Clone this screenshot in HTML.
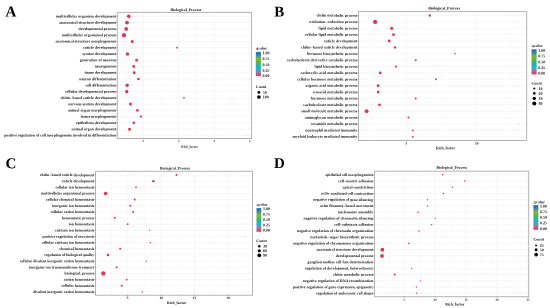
<!DOCTYPE html>
<html lang="en"><head><meta charset="utf-8"><title>GO enrichment bubble plots</title>
<style>html,body{margin:0;padding:0;background:#fff;overflow:hidden}svg{display:block}text{font-family:"Liberation Serif", "DejaVu Serif", serif;font-weight:bold;fill:#111;text-rendering:geometricPrecision}.lab{text-anchor:end}.tk{text-anchor:middle}.ax{text-anchor:middle}.ti{text-anchor:middle}.lg{font-size:4.0px}.lt{font-size:3.95px}.pl{font-size:15px;fill:#000}</style></head><body>
<svg width="550" height="308" viewBox="0 0 550 308">
<defs><linearGradient id="qv" x1="0" y1="0" x2="0" y2="1"><stop offset="0" stop-color="#1c70c6"/><stop offset="0.08" stop-color="#2279be"/><stop offset="0.18" stop-color="#4f9a7a"/><stop offset="0.28" stop-color="#7dba22"/><stop offset="0.40" stop-color="#5cb848"/><stop offset="0.50" stop-color="#2fb58a"/><stop offset="0.64" stop-color="#14b4d2"/><stop offset="0.76" stop-color="#5a9fc0"/><stop offset="0.86" stop-color="#b0708e"/><stop offset="0.95" stop-color="#e8405a"/><stop offset="1" stop-color="#ea3e58"/></linearGradient></defs>
<rect width="550" height="308" fill="#fff"/>
<g>
<text class="pl" x="5.6" y="16.4" transform="rotate(0.04 5.6 16.4)">A</text>
<path d="M117.3 16.35H251.6M117.3 22.62H251.6M117.3 28.88H251.6M117.3 35.15H251.6M117.3 41.41H251.6M117.3 47.68H251.6M117.3 53.94H251.6M117.3 60.21H251.6M117.3 66.48H251.6M117.3 72.74H251.6M117.3 79.01H251.6M117.3 85.27H251.6M117.3 91.54H251.6M117.3 97.81H251.6M117.3 104.07H251.6M117.3 110.34H251.6M117.3 116.60H251.6M117.3 122.87H251.6M117.3 129.13H251.6M117.3 135.40H251.6M143.3 12.4V138.5M178.7 12.4V138.5M214.2 12.4V138.5M249.8 12.4V138.5" stroke="#ededed" stroke-width="0.45" fill="none"/>
<path d="M125.5 12.4V138.5M161.0 12.4V138.5M196.4 12.4V138.5M232.0 12.4V138.5" stroke="#f3f3f3" stroke-width="0.3" fill="none"/>
<rect x="117.3" y="12.4" width="134.3" height="126.1" fill="none" stroke="#b4b4b4" stroke-width="1"/>
<path d="M116.4 16.35H117.3M116.4 22.62H117.3M116.4 28.88H117.3M116.4 35.15H117.3M116.4 41.41H117.3M116.4 47.68H117.3M116.4 53.94H117.3M116.4 60.21H117.3M116.4 66.48H117.3M116.4 72.74H117.3M116.4 79.01H117.3M116.4 85.27H117.3M116.4 91.54H117.3M116.4 97.81H117.3M116.4 104.07H117.3M116.4 110.34H117.3M116.4 116.60H117.3M116.4 122.87H117.3M116.4 129.13H117.3M116.4 135.40H117.3M143.3 138.5V139.3M178.7 138.5V139.3M214.2 138.5V139.3M249.8 138.5V139.3" stroke="#444" stroke-width="0.4" fill="none"/>
<text class="lab" font-size="3.91" x="116.1" y="17.50" transform="rotate(0.04 116.1 17.50)">multicellular organism development</text>
<text class="lab" font-size="3.91" x="116.1" y="23.77" transform="rotate(0.04 116.1 23.77)">anatomical structure development</text>
<text class="lab" font-size="3.91" x="116.1" y="30.03" transform="rotate(0.04 116.1 30.03)">developmental process</text>
<text class="lab" font-size="3.91" x="116.1" y="36.30" transform="rotate(0.04 116.1 36.30)">multicellular organismal process</text>
<text class="lab" font-size="3.91" x="116.1" y="42.56" transform="rotate(0.04 116.1 42.56)">anatomical structure morphogenesis</text>
<text class="lab" font-size="3.91" x="116.1" y="48.83" transform="rotate(0.04 116.1 48.83)">cuticle development</text>
<text class="lab" font-size="3.91" x="116.1" y="55.09" transform="rotate(0.04 116.1 55.09)">system development</text>
<text class="lab" font-size="3.91" x="116.1" y="61.36" transform="rotate(0.04 116.1 61.36)">generation of neurons</text>
<text class="lab" font-size="3.91" x="116.1" y="67.63" transform="rotate(0.04 116.1 67.63)">neurogenesis</text>
<text class="lab" font-size="3.91" x="116.1" y="73.89" transform="rotate(0.04 116.1 73.89)">tissue development</text>
<text class="lab" font-size="3.91" x="116.1" y="80.16" transform="rotate(0.04 116.1 80.16)">neuron differentiation</text>
<text class="lab" font-size="3.91" x="116.1" y="86.42" transform="rotate(0.04 116.1 86.42)">cell differentiation</text>
<text class="lab" font-size="3.91" x="116.1" y="92.69" transform="rotate(0.04 116.1 92.69)">cellular developmental process</text>
<text class="lab" font-size="3.91" x="116.1" y="98.96" transform="rotate(0.04 116.1 98.96)">chitin<tspan textLength="2.35" lengthAdjust="spacingAndGlyphs">-</tspan>based cuticle development</text>
<text class="lab" font-size="3.91" x="116.1" y="105.22" transform="rotate(0.04 116.1 105.22)">nervous system development</text>
<text class="lab" font-size="3.91" x="116.1" y="111.49" transform="rotate(0.04 116.1 111.49)">animal organ morphogenesis</text>
<text class="lab" font-size="3.91" x="116.1" y="117.75" transform="rotate(0.04 116.1 117.75)">tissue morphogenesis</text>
<text class="lab" font-size="3.91" x="116.1" y="124.02" transform="rotate(0.04 116.1 124.02)">epithelium development</text>
<text class="lab" font-size="3.91" x="116.1" y="130.28" transform="rotate(0.04 116.1 130.28)">animal organ development</text>
<text class="lab" font-size="3.91" x="116.1" y="136.55" transform="rotate(0.04 116.1 136.55)">positive regulation of cell morphogenesis involved in differentiation</text>
<text class="tk" font-size="3.0" x="143.3" y="142.0" transform="rotate(0.04 143.3 142.0)">2</text>
<text class="tk" font-size="3.0" x="178.7" y="142.0" transform="rotate(0.04 178.7 142.0)">3</text>
<text class="tk" font-size="3.0" x="214.2" y="142.0" transform="rotate(0.04 214.2 142.0)">4</text>
<text class="tk" font-size="3.0" x="249.8" y="142.0" transform="rotate(0.04 249.8 142.0)">5</text>
<text class="ax" font-size="3.3" x="189.6" y="147.8" transform="rotate(0.04 189.6 147.8)">Rich_factor</text>
<text class="ti" font-size="3.90" x="185.8" y="11.1" transform="rotate(0.04 185.8 11.1)">Biological_Process</text>
<circle cx="128.7" cy="16.35" r="1.80" fill="#e2344f" fill-opacity="1"/>
<circle cx="127.0" cy="22.62" r="1.90" fill="#e2344f" fill-opacity="1"/>
<circle cx="126.2" cy="28.88" r="1.90" fill="#e2344f" fill-opacity="1"/>
<circle cx="124.0" cy="35.15" r="2.10" fill="#e2344f" fill-opacity="1"/>
<circle cx="132.2" cy="41.41" r="1.50" fill="#e2344f" fill-opacity="1"/>
<circle cx="177.1" cy="47.68" r="0.90" fill="#e2344f" fill-opacity="1"/>
<circle cx="127.5" cy="53.94" r="1.70" fill="#e2344f" fill-opacity="1"/>
<circle cx="136.6" cy="60.21" r="1.40" fill="#e2344f" fill-opacity="1"/>
<circle cx="133.8" cy="66.48" r="1.40" fill="#e2344f" fill-opacity="1"/>
<circle cx="134.2" cy="72.74" r="1.40" fill="#e2344f" fill-opacity="1"/>
<circle cx="138.4" cy="79.01" r="1.30" fill="#e2344f" fill-opacity="1"/>
<circle cx="127.2" cy="85.27" r="1.70" fill="#e2344f" fill-opacity="1"/>
<circle cx="126.7" cy="91.54" r="1.70" fill="#e2344f" fill-opacity="1"/>
<circle cx="184.0" cy="97.81" r="0.90" fill="#e2344f" fill-opacity="1"/>
<circle cx="130.5" cy="104.07" r="1.50" fill="#e2344f" fill-opacity="1"/>
<circle cx="137.4" cy="110.34" r="1.30" fill="#e2344f" fill-opacity="1"/>
<circle cx="141.0" cy="116.60" r="1.10" fill="#e2344f" fill-opacity="1"/>
<circle cx="133.8" cy="122.87" r="1.30" fill="#e2344f" fill-opacity="1"/>
<circle cx="129.5" cy="129.13" r="1.50" fill="#e2344f" fill-opacity="1"/>
<circle cx="245.3" cy="135.40" r="0.45" fill="#e2344f" fill-opacity="0.6"/>
<text class="lt" x="255.8" y="49.6" transform="rotate(0.04 255.8 49.6)">qvalue</text>
<rect x="255.8" y="51.9" width="5.1" height="24.2" fill="url(#qv)"/>
<text class="lg" x="262.6" y="54.2" transform="rotate(0.04 262.6 54.2)">1.00</text>
<text class="lg" x="262.6" y="60.0" transform="rotate(0.04 262.6 60.0)">0.75</text>
<text class="lg" x="262.6" y="65.9" transform="rotate(0.04 262.6 65.9)">0.50</text>
<text class="lg" x="262.6" y="71.7" transform="rotate(0.04 262.6 71.7)">0.25</text>
<text class="lg" x="262.6" y="76.9" transform="rotate(0.04 262.6 76.9)">0.00</text>
<text class="lt" x="255.8" y="88.0" transform="rotate(0.04 255.8 88.0)">Count</text>
<circle cx="258.9" cy="92.4" r="1.35" fill="#000"/>
<text class="lg" x="262.8" y="93.7" transform="rotate(0.04 262.8 93.7)">50</text>
<circle cx="258.9" cy="97.0" r="1.85" fill="#000"/>
<text class="lg" x="262.8" y="98.3" transform="rotate(0.04 262.8 98.3)">100</text>
</g>
<g>
<text class="pl" x="274.3" y="16.4" transform="rotate(0.04 274.3 16.4)">B</text>
<path d="M358.5 15.50H526.7M358.5 21.88H526.7M358.5 28.26H526.7M358.5 34.64H526.7M358.5 41.02H526.7M358.5 47.39H526.7M358.5 53.77H526.7M358.5 60.15H526.7M358.5 66.53H526.7M358.5 72.91H526.7M358.5 79.29H526.7M358.5 85.67H526.7M358.5 92.05H526.7M358.5 98.43H526.7M358.5 104.81H526.7M358.5 111.18H526.7M358.5 117.56H526.7M358.5 123.94H526.7M358.5 130.32H526.7M358.5 136.70H526.7M406.4 11.6V140.5M476.7 11.6V140.5" stroke="#ededed" stroke-width="0.45" fill="none"/>
<path d="M371.2 11.6V140.5M441.6 11.6V140.5M511.8 11.6V140.5" stroke="#f3f3f3" stroke-width="0.3" fill="none"/>
<rect x="358.5" y="11.6" width="168.2" height="128.9" fill="none" stroke="#b4b4b4" stroke-width="1"/>
<path d="M357.6 15.50H358.5M357.6 21.88H358.5M357.6 28.26H358.5M357.6 34.64H358.5M357.6 41.02H358.5M357.6 47.39H358.5M357.6 53.77H358.5M357.6 60.15H358.5M357.6 66.53H358.5M357.6 72.91H358.5M357.6 79.29H358.5M357.6 85.67H358.5M357.6 92.05H358.5M357.6 98.43H358.5M357.6 104.81H358.5M357.6 111.18H358.5M357.6 117.56H358.5M357.6 123.94H358.5M357.6 130.32H358.5M357.6 136.70H358.5M406.4 140.5V141.3M476.7 140.5V141.3" stroke="#444" stroke-width="0.4" fill="none"/>
<text class="lab" font-size="3.98" x="357.3" y="16.65" transform="rotate(0.04 357.3 16.65)">chitin metabolic process</text>
<text class="lab" font-size="3.98" x="357.3" y="23.03" transform="rotate(0.04 357.3 23.03)">oxidation<tspan textLength="2.39" lengthAdjust="spacingAndGlyphs">-</tspan>reduction process</text>
<text class="lab" font-size="3.98" x="357.3" y="29.41" transform="rotate(0.04 357.3 29.41)">lipid metabolic process</text>
<text class="lab" font-size="3.98" x="357.3" y="35.79" transform="rotate(0.04 357.3 35.79)">cellular lipid metabolic process</text>
<text class="lab" font-size="3.98" x="357.3" y="42.17" transform="rotate(0.04 357.3 42.17)">cuticle development</text>
<text class="lab" font-size="3.98" x="357.3" y="48.54" transform="rotate(0.04 357.3 48.54)">chitin<tspan textLength="2.39" lengthAdjust="spacingAndGlyphs">-</tspan>based cuticle development</text>
<text class="lab" font-size="3.98" x="357.3" y="54.92" transform="rotate(0.04 357.3 54.92)">hormone biosynthetic process</text>
<text class="lab" font-size="3.98" x="357.3" y="61.30" transform="rotate(0.04 357.3 61.30)">carbohydrate derivative catabolic process</text>
<text class="lab" font-size="3.98" x="357.3" y="67.68" transform="rotate(0.04 357.3 67.68)">lipid biosynthetic process</text>
<text class="lab" font-size="3.98" x="357.3" y="74.06" transform="rotate(0.04 357.3 74.06)">carboxylic acid metabolic process</text>
<text class="lab" font-size="3.98" x="357.3" y="80.44" transform="rotate(0.04 357.3 80.44)">cellular hormone metabolic process</text>
<text class="lab" font-size="3.98" x="357.3" y="86.82" transform="rotate(0.04 357.3 86.82)">organic acid metabolic process</text>
<text class="lab" font-size="3.98" x="357.3" y="93.20" transform="rotate(0.04 357.3 93.20)">oxoacid metabolic process</text>
<text class="lab" font-size="3.98" x="357.3" y="99.58" transform="rotate(0.04 357.3 99.58)">hormone metabolic process</text>
<text class="lab" font-size="3.98" x="357.3" y="105.96" transform="rotate(0.04 357.3 105.96)">carbohydrate metabolic process</text>
<text class="lab" font-size="3.98" x="357.3" y="112.33" transform="rotate(0.04 357.3 112.33)">small molecule metabolic process</text>
<text class="lab" font-size="3.98" x="357.3" y="118.71" transform="rotate(0.04 357.3 118.71)">aminoglycan metabolic process</text>
<text class="lab" font-size="3.98" x="357.3" y="125.09" transform="rotate(0.04 357.3 125.09)">ceramide metabolic process</text>
<text class="lab" font-size="3.98" x="357.3" y="131.47" transform="rotate(0.04 357.3 131.47)">neutrophil mediated immunity</text>
<text class="lab" font-size="3.98" x="357.3" y="137.85" transform="rotate(0.04 357.3 137.85)">myeloid leukocyte mediated immunity</text>
<text class="tk" font-size="3.4" x="406.4" y="144.6" transform="rotate(0.04 406.4 144.6)">5</text>
<text class="tk" font-size="3.4" x="476.7" y="144.6" transform="rotate(0.04 476.7 144.6)">10</text>
<text class="ax" font-size="3.82" x="445.6" y="149.3" transform="rotate(0.04 445.6 149.3)">Rich_factor</text>
<text class="ti" font-size="4.01" x="444.1" y="9.6" transform="rotate(0.04 444.1 9.6)">Biological_Process</text>
<circle cx="429.8" cy="15.50" r="1.20" fill="#e2344f" fill-opacity="1"/>
<circle cx="375.1" cy="21.88" r="2.10" fill="#e2344f" fill-opacity="1"/>
<circle cx="391.7" cy="28.26" r="1.60" fill="#e2344f" fill-opacity="1"/>
<circle cx="393.5" cy="34.64" r="1.40" fill="#e2344f" fill-opacity="1"/>
<circle cx="389.2" cy="41.02" r="1.40" fill="#e2344f" fill-opacity="1"/>
<circle cx="395.1" cy="47.39" r="1.20" fill="#e2344f" fill-opacity="1"/>
<circle cx="454.9" cy="53.77" r="0.80" fill="#e2344f" fill-opacity="1"/>
<circle cx="415.7" cy="60.15" r="1.00" fill="#e2344f" fill-opacity="1"/>
<circle cx="395.9" cy="66.53" r="1.10" fill="#e2344f" fill-opacity="1"/>
<circle cx="380.2" cy="72.91" r="1.40" fill="#e2344f" fill-opacity="1"/>
<circle cx="435.9" cy="79.29" r="1.00" fill="#e2344f" fill-opacity="1"/>
<circle cx="378.1" cy="85.67" r="1.40" fill="#e2344f" fill-opacity="1"/>
<circle cx="378.2" cy="92.05" r="1.40" fill="#e2344f" fill-opacity="1"/>
<circle cx="415.7" cy="98.43" r="1.00" fill="#e2344f" fill-opacity="1"/>
<circle cx="379.5" cy="104.81" r="1.40" fill="#e2344f" fill-opacity="1"/>
<circle cx="366.6" cy="111.18" r="1.90" fill="#e2344f" fill-opacity="1"/>
<circle cx="408.5" cy="117.56" r="1.00" fill="#e2344f" fill-opacity="1"/>
<circle cx="518.9" cy="123.94" r="0.40" fill="#e2344f" fill-opacity="0.6"/>
<circle cx="412.8" cy="130.32" r="0.90" fill="#e2344f" fill-opacity="1"/>
<circle cx="412.8" cy="136.70" r="0.90" fill="#e2344f" fill-opacity="1"/>
<text class="lt" x="531.4" y="46.9" transform="rotate(0.04 531.4 46.9)">qvalue</text>
<rect x="531.5" y="49.3" width="5.1" height="25.1" fill="url(#qv)"/>
<text class="lg" x="538.3" y="51.7" transform="rotate(0.04 538.3 51.7)">1.00</text>
<text class="lg" x="538.3" y="57.3" transform="rotate(0.04 538.3 57.3)">0.75</text>
<text class="lg" x="538.3" y="63.2" transform="rotate(0.04 538.3 63.2)">0.50</text>
<text class="lg" x="538.3" y="68.9" transform="rotate(0.04 538.3 68.9)">0.25</text>
<text class="lg" x="538.3" y="74.5" transform="rotate(0.04 538.3 74.5)">0.00</text>
<text class="lt" x="531.4" y="84.4" transform="rotate(0.04 531.4 84.4)">Count</text>
<circle cx="534.3" cy="88.6" r="1.00" fill="#000"/>
<text class="lg" x="538.6" y="89.9" transform="rotate(0.04 538.6 89.9)">10</text>
<circle cx="534.3" cy="93.4" r="1.40" fill="#000"/>
<text class="lg" x="538.6" y="94.7" transform="rotate(0.04 538.6 94.7)">20</text>
<circle cx="534.3" cy="98.4" r="1.70" fill="#000"/>
<text class="lg" x="538.6" y="99.7" transform="rotate(0.04 538.6 99.7)">30</text>
<circle cx="534.3" cy="103.4" r="2.00" fill="#000"/>
<text class="lg" x="538.6" y="104.7" transform="rotate(0.04 538.6 104.7)">40</text>
</g>
<g>
<text class="pl" x="5.4" y="168.3" transform="rotate(0.04 5.4 168.3)">C</text>
<path d="M95.5 175.00H252.5M95.5 181.15H252.5M95.5 187.31H252.5M95.5 193.46H252.5M95.5 199.61H252.5M95.5 205.76H252.5M95.5 211.92H252.5M95.5 218.07H252.5M95.5 224.22H252.5M95.5 230.37H252.5M95.5 236.53H252.5M95.5 242.68H252.5M95.5 248.83H252.5M95.5 254.98H252.5M95.5 261.14H252.5M95.5 267.29H252.5M95.5 273.44H252.5M95.5 279.59H252.5M95.5 285.75H252.5M95.5 291.90H252.5M127.7 171.3V295.2M161.1 171.3V295.2M194.5 171.3V295.2M228.2 171.3V295.2" stroke="#ededed" stroke-width="0.45" fill="none"/>
<path d="M111.3 171.3V295.2M144.5 171.3V295.2M177.9 171.3V295.2M211.2 171.3V295.2M244.6 171.3V295.2" stroke="#f3f3f3" stroke-width="0.3" fill="none"/>
<rect x="95.5" y="171.3" width="157.0" height="123.9" fill="none" stroke="#b4b4b4" stroke-width="1"/>
<path d="M94.6 175.00H95.5M94.6 181.15H95.5M94.6 187.31H95.5M94.6 193.46H95.5M94.6 199.61H95.5M94.6 205.76H95.5M94.6 211.92H95.5M94.6 218.07H95.5M94.6 224.22H95.5M94.6 230.37H95.5M94.6 236.53H95.5M94.6 242.68H95.5M94.6 248.83H95.5M94.6 254.98H95.5M94.6 261.14H95.5M94.6 267.29H95.5M94.6 273.44H95.5M94.6 279.59H95.5M94.6 285.75H95.5M94.6 291.90H95.5M127.7 295.2V296.0M161.1 295.2V296.0M194.5 295.2V296.0M228.2 295.2V296.0" stroke="#444" stroke-width="0.4" fill="none"/>
<text class="lab" font-size="3.83" x="94.3" y="176.15" transform="rotate(0.04 94.3 176.15)">chitin<tspan textLength="2.30" lengthAdjust="spacingAndGlyphs">-</tspan>based cuticle development</text>
<text class="lab" font-size="3.83" x="94.3" y="182.30" transform="rotate(0.04 94.3 182.30)">cuticle development</text>
<text class="lab" font-size="3.83" x="94.3" y="188.46" transform="rotate(0.04 94.3 188.46)">cellular ion homeostasis</text>
<text class="lab" font-size="3.83" x="94.3" y="194.61" transform="rotate(0.04 94.3 194.61)">multicellular organismal process</text>
<text class="lab" font-size="3.83" x="94.3" y="200.76" transform="rotate(0.04 94.3 200.76)">cellular chemical homeostasis</text>
<text class="lab" font-size="3.83" x="94.3" y="206.91" transform="rotate(0.04 94.3 206.91)">inorganic ion homeostasis</text>
<text class="lab" font-size="3.83" x="94.3" y="213.07" transform="rotate(0.04 94.3 213.07)">cellular cation homeostasis</text>
<text class="lab" font-size="3.83" x="94.3" y="219.22" transform="rotate(0.04 94.3 219.22)">homeostatic process</text>
<text class="lab" font-size="3.83" x="94.3" y="225.37" transform="rotate(0.04 94.3 225.37)">ion homeostasis</text>
<text class="lab" font-size="3.83" x="94.3" y="231.52" transform="rotate(0.04 94.3 231.52)">calcium ion homeostasis</text>
<text class="lab" font-size="3.83" x="94.3" y="237.68" transform="rotate(0.04 94.3 237.68)">positive regulation of exocytosis</text>
<text class="lab" font-size="3.83" x="94.3" y="243.83" transform="rotate(0.04 94.3 243.83)">cellular calcium ion homeostasis</text>
<text class="lab" font-size="3.83" x="94.3" y="249.98" transform="rotate(0.04 94.3 249.98)">chemical homeostasis</text>
<text class="lab" font-size="3.83" x="94.3" y="256.13" transform="rotate(0.04 94.3 256.13)">regulation of biological quality</text>
<text class="lab" font-size="3.83" x="94.3" y="262.29" transform="rotate(0.04 94.3 262.29)">cellular divalent inorganic cation homeostasis</text>
<text class="lab" font-size="3.83" x="94.3" y="268.44" transform="rotate(0.04 94.3 268.44)">inorganic ion transmembrane transport</text>
<text class="lab" font-size="3.83" x="94.3" y="274.59" transform="rotate(0.04 94.3 274.59)">biological_process</text>
<text class="lab" font-size="3.83" x="94.3" y="280.74" transform="rotate(0.04 94.3 280.74)">cation homeostasis</text>
<text class="lab" font-size="3.83" x="94.3" y="286.90" transform="rotate(0.04 94.3 286.90)">cellular homeostasis</text>
<text class="lab" font-size="3.83" x="94.3" y="293.05" transform="rotate(0.04 94.3 293.05)">divalent inorganic cation homeostasis</text>
<text class="tk" font-size="3.4" x="127.7" y="299.1" transform="rotate(0.04 127.7 299.1)">5</text>
<text class="tk" font-size="3.4" x="161.1" y="299.1" transform="rotate(0.04 161.1 299.1)">10</text>
<text class="tk" font-size="3.4" x="194.5" y="299.1" transform="rotate(0.04 194.5 299.1)">15</text>
<text class="tk" font-size="3.4" x="228.2" y="299.1" transform="rotate(0.04 228.2 299.1)">20</text>
<text class="ax" font-size="3.82" x="176.7" y="303.9" transform="rotate(0.04 176.7 303.9)">Rich_factor</text>
<text class="ti" font-size="3.79" x="175.0" y="169.5" transform="rotate(0.04 175.0 169.5)">Biological_Process</text>
<circle cx="176.5" cy="175.00" r="1.00" fill="#e2344f" fill-opacity="1"/>
<circle cx="153.4" cy="181.15" r="1.20" fill="#e2344f" fill-opacity="1"/>
<circle cx="136.0" cy="187.31" r="0.90" fill="#e2344f" fill-opacity="1"/>
<circle cx="105.6" cy="193.46" r="1.80" fill="#e2344f" fill-opacity="1"/>
<circle cx="134.7" cy="199.61" r="1.00" fill="#e2344f" fill-opacity="1"/>
<circle cx="130.3" cy="205.76" r="1.00" fill="#e2344f" fill-opacity="1"/>
<circle cx="133.1" cy="211.92" r="1.00" fill="#e2344f" fill-opacity="1"/>
<circle cx="114.8" cy="218.07" r="1.00" fill="#e2344f" fill-opacity="1"/>
<circle cx="127.7" cy="224.22" r="0.90" fill="#e2344f" fill-opacity="1"/>
<circle cx="149.5" cy="230.37" r="0.70" fill="#e2344f" fill-opacity="1"/>
<circle cx="245.2" cy="236.53" r="0.40" fill="#e2344f" fill-opacity="0.6"/>
<circle cx="150.4" cy="242.68" r="0.70" fill="#e2344f" fill-opacity="1"/>
<circle cx="120.2" cy="248.83" r="1.00" fill="#e2344f" fill-opacity="1"/>
<circle cx="107.9" cy="254.98" r="1.30" fill="#e2344f" fill-opacity="1"/>
<circle cx="146.3" cy="261.14" r="0.70" fill="#e2344f" fill-opacity="1"/>
<circle cx="116.6" cy="267.29" r="1.00" fill="#e2344f" fill-opacity="1"/>
<circle cx="103.3" cy="273.44" r="2.10" fill="#e2344f" fill-opacity="1"/>
<circle cx="126.7" cy="279.59" r="0.90" fill="#e2344f" fill-opacity="1"/>
<circle cx="121.8" cy="285.75" r="1.00" fill="#e2344f" fill-opacity="1"/>
<circle cx="142.4" cy="291.90" r="0.70" fill="#e2344f" fill-opacity="1"/>
<text class="lt" x="256.4" y="205.7" transform="rotate(0.04 256.4 205.7)">qvalue</text>
<rect x="256.5" y="208.1" width="4.7" height="23.7" fill="url(#qv)"/>
<text class="lg" x="262.9" y="210.1" transform="rotate(0.04 262.9 210.1)">1.00</text>
<text class="lg" x="262.9" y="215.5" transform="rotate(0.04 262.9 215.5)">0.75</text>
<text class="lg" x="262.9" y="220.8" transform="rotate(0.04 262.9 220.8)">0.50</text>
<text class="lg" x="262.9" y="226.2" transform="rotate(0.04 262.9 226.2)">0.25</text>
<text class="lg" x="262.9" y="231.6" transform="rotate(0.04 262.9 231.6)">0.00</text>
<text class="lt" x="256.3" y="241.9" transform="rotate(0.04 256.3 241.9)">Count</text>
<circle cx="259.3" cy="246.3" r="1.20" fill="#000"/>
<text class="lg" x="263.1" y="247.6" transform="rotate(0.04 263.1 247.6)">30</text>
<circle cx="259.3" cy="250.8" r="1.55" fill="#000"/>
<text class="lg" x="263.1" y="252.1" transform="rotate(0.04 263.1 252.1)">60</text>
<circle cx="259.3" cy="255.3" r="1.90" fill="#000"/>
<text class="lg" x="263.1" y="256.6" transform="rotate(0.04 263.1 256.6)">90</text>
</g>
<g>
<text class="pl" x="274.0" y="168.1" transform="rotate(0.04 274.0 168.1)">D</text>
<path d="M374.4 174.80H528.7M374.4 181.04H528.7M374.4 187.27H528.7M374.4 193.51H528.7M374.4 199.75H528.7M374.4 205.98H528.7M374.4 212.22H528.7M374.4 218.46H528.7M374.4 224.69H528.7M374.4 230.93H528.7M374.4 237.17H528.7M374.4 243.41H528.7M374.4 249.64H528.7M374.4 255.88H528.7M374.4 262.12H528.7M374.4 268.35H528.7M374.4 274.59H528.7M374.4 280.83H528.7M374.4 287.06H528.7M374.4 293.30H528.7M404.2 171.2V296.7M435.0 171.2V296.7M466.0 171.2V296.7M497.1 171.2V296.7M528.0 171.2V296.7" stroke="#ededed" stroke-width="0.45" fill="none"/>
<path d="M388.7 171.2V296.7M419.6 171.2V296.7M450.5 171.2V296.7M481.5 171.2V296.7M512.6 171.2V296.7" stroke="#f3f3f3" stroke-width="0.3" fill="none"/>
<rect x="374.4" y="171.2" width="154.3" height="125.5" fill="none" stroke="#b4b4b4" stroke-width="1"/>
<path d="M373.5 174.80H374.4M373.5 181.04H374.4M373.5 187.27H374.4M373.5 193.51H374.4M373.5 199.75H374.4M373.5 205.98H374.4M373.5 212.22H374.4M373.5 218.46H374.4M373.5 224.69H374.4M373.5 230.93H374.4M373.5 237.17H374.4M373.5 243.41H374.4M373.5 249.64H374.4M373.5 255.88H374.4M373.5 262.12H374.4M373.5 268.35H374.4M373.5 274.59H374.4M373.5 280.83H374.4M373.5 287.06H374.4M373.5 293.30H374.4M404.2 296.7V297.5M435.0 296.7V297.5M466.0 296.7V297.5M497.1 296.7V297.5M528.0 296.7V297.5" stroke="#444" stroke-width="0.4" fill="none"/>
<text class="lab" font-size="3.905" x="373.2" y="175.95" transform="rotate(0.04 373.2 175.95)">epithelial cell morphogenesis</text>
<text class="lab" font-size="3.905" x="373.2" y="182.19" transform="rotate(0.04 373.2 182.19)">cell<tspan textLength="2.34" lengthAdjust="spacingAndGlyphs">-</tspan>matrix adhesion</text>
<text class="lab" font-size="3.905" x="373.2" y="188.42" transform="rotate(0.04 373.2 188.42)">apical constriction</text>
<text class="lab" font-size="3.905" x="373.2" y="194.66" transform="rotate(0.04 373.2 194.66)">actin<tspan textLength="2.34" lengthAdjust="spacingAndGlyphs">-</tspan>mediated cell contraction</text>
<text class="lab" font-size="3.905" x="373.2" y="200.90" transform="rotate(0.04 373.2 200.90)">negative regulation of gene silencing</text>
<text class="lab" font-size="3.905" x="373.2" y="207.13" transform="rotate(0.04 373.2 207.13)">actin filament<tspan textLength="2.34" lengthAdjust="spacingAndGlyphs">-</tspan>based movement</text>
<text class="lab" font-size="3.905" x="373.2" y="213.37" transform="rotate(0.04 373.2 213.37)">nucleosome assembly</text>
<text class="lab" font-size="3.905" x="373.2" y="219.61" transform="rotate(0.04 373.2 219.61)">negative regulation of chromatin silencing</text>
<text class="lab" font-size="3.905" x="373.2" y="225.84" transform="rotate(0.04 373.2 225.84)">cell<tspan textLength="2.34" lengthAdjust="spacingAndGlyphs">-</tspan>substrate adhesion</text>
<text class="lab" font-size="3.905" x="373.2" y="232.08" transform="rotate(0.04 373.2 232.08)">negative regulation of chromatin organization</text>
<text class="lab" font-size="3.905" x="373.2" y="238.32" transform="rotate(0.04 373.2 238.32)">nucleotide<tspan textLength="2.34" lengthAdjust="spacingAndGlyphs">-</tspan>sugar biosynthetic process</text>
<text class="lab" font-size="3.905" x="373.2" y="244.56" transform="rotate(0.04 373.2 244.56)">negative regulation of chromosome organization</text>
<text class="lab" font-size="3.905" x="373.2" y="250.79" transform="rotate(0.04 373.2 250.79)">anatomical structure development</text>
<text class="lab" font-size="3.905" x="373.2" y="257.03" transform="rotate(0.04 373.2 257.03)">developmental process</text>
<text class="lab" font-size="3.905" x="373.2" y="263.27" transform="rotate(0.04 373.2 263.27)">ganglion mother cell fate determination</text>
<text class="lab" font-size="3.905" x="373.2" y="269.50" transform="rotate(0.04 373.2 269.50)">regulation of development, heterochronic</text>
<text class="lab" font-size="3.905" x="373.2" y="275.74" transform="rotate(0.04 373.2 275.74)">chitin metabolic process</text>
<text class="lab" font-size="3.905" x="373.2" y="281.98" transform="rotate(0.04 373.2 281.98)">negative regulation of DNA recombination</text>
<text class="lab" font-size="3.905" x="373.2" y="288.21" transform="rotate(0.04 373.2 288.21)">positive regulation of gene expression, epigenetic</text>
<text class="lab" font-size="3.905" x="373.2" y="294.45" transform="rotate(0.04 373.2 294.45)">regulation of embryonic cell shape</text>
<text class="tk" font-size="3.2" x="404.2" y="300.8" transform="rotate(0.04 404.2 300.8)">5</text>
<text class="tk" font-size="3.2" x="435.0" y="300.8" transform="rotate(0.04 435.0 300.8)">10</text>
<text class="tk" font-size="3.2" x="466.0" y="300.8" transform="rotate(0.04 466.0 300.8)">15</text>
<text class="tk" font-size="3.2" x="497.1" y="300.8" transform="rotate(0.04 497.1 300.8)">20</text>
<text class="tk" font-size="3.2" x="528.0" y="300.8" transform="rotate(0.04 528.0 300.8)">25</text>
<text class="ax" font-size="3.82" x="454.8" y="305.5" transform="rotate(0.04 454.8 305.5)">Rich_factor</text>
<text class="ti" font-size="3.85" x="451.7" y="168.8" transform="rotate(0.04 451.7 168.8)">Biological_Process</text>
<circle cx="442.7" cy="174.80" r="0.80" fill="#e2344f" fill-opacity="1"/>
<circle cx="464.7" cy="181.04" r="0.80" fill="#e2344f" fill-opacity="1"/>
<circle cx="452.5" cy="187.27" r="0.70" fill="#e2344f" fill-opacity="1"/>
<circle cx="443.3" cy="193.51" r="0.80" fill="#e2344f" fill-opacity="1"/>
<circle cx="427.5" cy="199.75" r="0.70" fill="#e2344f" fill-opacity="1"/>
<circle cx="427.5" cy="205.98" r="0.70" fill="#e2344f" fill-opacity="1"/>
<circle cx="418.2" cy="212.22" r="0.80" fill="#e2344f" fill-opacity="1"/>
<circle cx="435.3" cy="218.46" r="0.60" fill="#e2344f" fill-opacity="1"/>
<circle cx="431.6" cy="224.69" r="0.70" fill="#e2344f" fill-opacity="1"/>
<circle cx="418.9" cy="230.93" r="0.80" fill="#e2344f" fill-opacity="1"/>
<circle cx="522.0" cy="237.17" r="0.35" fill="#e2344f" fill-opacity="0.6"/>
<circle cx="408.9" cy="243.41" r="0.80" fill="#e2344f" fill-opacity="1"/>
<circle cx="382.4" cy="249.64" r="1.90" fill="#e2344f" fill-opacity="1"/>
<circle cx="382.0" cy="255.88" r="1.90" fill="#e2344f" fill-opacity="1"/>
<circle cx="491.9" cy="262.12" r="0.35" fill="#e2344f" fill-opacity="0.6"/>
<circle cx="411.6" cy="268.35" r="0.70" fill="#e2344f" fill-opacity="1"/>
<circle cx="394.7" cy="274.59" r="1.00" fill="#e2344f" fill-opacity="1"/>
<circle cx="420.5" cy="280.83" r="0.70" fill="#e2344f" fill-opacity="1"/>
<circle cx="416.5" cy="287.06" r="0.70" fill="#e2344f" fill-opacity="1"/>
<circle cx="416.5" cy="293.30" r="0.70" fill="#e2344f" fill-opacity="1"/>
<text class="lt" x="533.5" y="203.2" transform="rotate(0.04 533.5 203.2)">qvalue</text>
<rect x="533.4" y="205.1" width="4.9" height="24.7" fill="url(#qv)"/>
<text class="lg" x="540.0" y="207.6" transform="rotate(0.04 540.0 207.6)">1.00</text>
<text class="lg" x="540.0" y="213.1" transform="rotate(0.04 540.0 213.1)">0.75</text>
<text class="lg" x="540.0" y="218.5" transform="rotate(0.04 540.0 218.5)">0.50</text>
<text class="lg" x="540.0" y="224.2" transform="rotate(0.04 540.0 224.2)">0.25</text>
<text class="lg" x="540.0" y="229.9" transform="rotate(0.04 540.0 229.9)">0.00</text>
<text class="lt" x="533.5" y="240.5" transform="rotate(0.04 533.5 240.5)">Count</text>
<circle cx="536.1" cy="245.4" r="0.95" fill="#000"/>
<text class="lg" x="539.8" y="246.7" transform="rotate(0.04 539.8 246.7)">25</text>
<circle cx="536.1" cy="249.8" r="1.50" fill="#000"/>
<text class="lg" x="539.8" y="251.2" transform="rotate(0.04 539.8 251.2)">50</text>
<circle cx="536.1" cy="254.6" r="1.85" fill="#000"/>
<text class="lg" x="539.8" y="255.9" transform="rotate(0.04 539.8 255.9)">75</text>
</g>
</svg></body></html>
